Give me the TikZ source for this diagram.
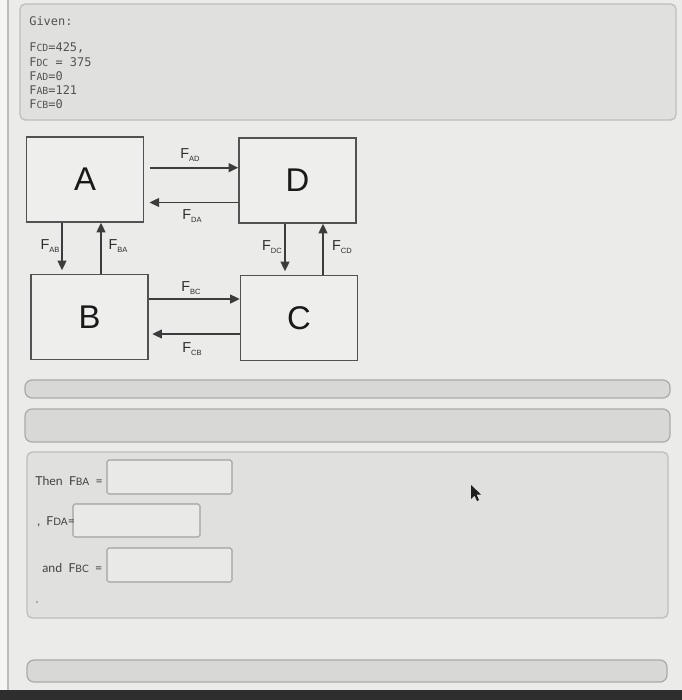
\documentclass[tikz,border=0pt]{standalone}
\usepackage{fontspec}
\setmainfont{Liberation Sans}
\newfontfamily\monofont{DejaVu Sans Mono}
\newfontfamily\formfont{Lato}
\usetikzlibrary{arrows.meta}
\definecolor{pagebg}{HTML}{EBEBE9}
\definecolor{panelfill}{HTML}{E0E0DE}
\definecolor{panelline}{HTML}{BDBDBB}
\definecolor{barfill}{HTML}{D8D8D6}
\definecolor{inputfill}{HTML}{E9E9E7}
\definecolor{inkgrey}{HTML}{3C3C3C}
\newcommand\fsub[1]{F\raisebox{-0.45ex}{\fontsize{4.3}{4.3}\selectfont #1}}
\newcommand\gsub[1]{F{\fontsize{5.6}{5.6}\selectfont #1}}
\tikzset{
	blockbox/.style={draw=black!68, line width=0.85pt, fill=pagebg!85!white,
		minimum width=2.34cm, minimum height=1.7cm, inner sep=0pt,
		font=\fontsize{18.7}{18.7}\selectfont, text=black!90},
	force/.style={draw=inkgrey, line width=1.1pt, -{Triangle[length=5.5pt,width=5pt]}},
	flabel/.style={font=\fontsize{8.2}{8.2}\selectfont, text=black!82, inner sep=0pt},
	giventext/.style={anchor=west, inner sep=0pt, text=black!68, font=\monofont\fontsize{6.8}{6.8}\selectfont},
	formtext/.style={anchor=west, inner sep=0pt, text=black!75, font=\formfont\fontsize{7}{7}\selectfont},
	panelbox/.style={draw=panelline, line width=0.7pt, fill=panelfill, rounded corners=3pt},
	barbox/.style={draw=panelline!90!black, line width=0.7pt, fill=barfill, rounded corners=4pt},
	inputbox/.style={draw=panelline!85!black, line width=0.6pt, fill=inputfill, rounded corners=1pt}
}
\begin{document}
\begin{tikzpicture}[x=0.02cm, y=-0.02cm]
	%%%%% PAGE %%%%%
	\useasboundingbox (0,0) rectangle (682,700);
	\fill[pagebg] (0,0) rectangle (682,700);
	\fill[pagebg!50!white] (0,0) rectangle (8,690);
	\draw[panelline, line width=0.8pt] (8,0) -- (8,690);
	\fill[black!82] (0,690) rectangle (682,700);
	
	%%%%% GIVEN %%%%%
	\draw[panelbox] (20,4) rectangle (676,120);
	\node[giventext] (given) at (29,21) {Given:};
	\node[giventext] (gcd) at (29,48) {\gsub{CD}=425,};
	\node[giventext] (gdc) at (29,62) {\gsub{DC} = 375};
	\node[giventext] (gad) at (29,76) {\gsub{AD}=0};
	\node[giventext] (gab) at (29,90) {\gsub{AB}=121};
	\node[giventext] (gcb) at (29,104) {\gsub{CB}=0};
	
	%%%%% BLOCKS %%%%%
	\node[blockbox] (A) at (85,179.5) {A};
	\node[blockbox] (D) at (297.5,180.5) {D};
	\node[blockbox] (B) at (89.5,317) {B};
	\node[blockbox] (C) at (299,318) {C};
	
	\draw[force, shorten <=3pt] ([yshift=0.236cm]A.east) -- ([yshift=0.236cm]A.east -| D.west);
	\draw[force, shorten >=3pt] ([yshift=-0.44cm]D.west) -- ([yshift=-0.44cm]D.west -| A.east);
	\draw[force, shorten >=2pt] ([xshift=-0.46cm]A.south) -- ([xshift=-0.46cm]A.south |- B.north);
	\draw[force] ([xshift=0.23cm]B.north) -- ([xshift=0.23cm]B.north |- A.south);
	\draw[force, shorten >=2pt] ([xshift=-0.25cm]D.south) -- ([xshift=-0.25cm]D.south |- C.north);
	\draw[force] ([xshift=0.48cm]C.north) -- ([xshift=0.48cm]C.north |- D.south);
	\draw[force] ([yshift=0.36cm]B.east) -- ([yshift=0.36cm]B.east -| C.west);
	\draw[force, shorten >=2pt] ([yshift=-0.32cm]C.west) -- ([yshift=-0.32cm]C.west -| B.east);
	
	\node[flabel] (lad) at (190,155) {\fsub{AD}};
	\node[flabel] (lda) at (192,216) {\fsub{DA}};
	\node[flabel] (lab) at (50,246) {\fsub{AB}};
	\node[flabel] (lba) at (118,246) {\fsub{BA}};
	\node[flabel] (ldc) at (272,247) {\fsub{DC}};
	\node[flabel] (lcd) at (342,247) {\fsub{CD}};
	\node[flabel] (lbc) at (191,288) {\fsub{BC}};
	\node[flabel] (lcb) at (192,349) {\fsub{CB}};
	
	%%%%% FORM %%%%%
	\draw[barbox] (25,380) rectangle (670,398);
	\draw[barbox] (25,409) rectangle (670,442);
	\draw[panelbox] (27,452) rectangle (668,618);
	\draw[barbox] (27,660) rectangle (667,682);
	
	\draw[inputbox] (107,460) rectangle (232,494);
	\draw[inputbox] (73,504) rectangle (200,537);
	\draw[inputbox] (107,548) rectangle (232,582);
	
	\node[formtext] (then) at (35,481) {Then \ F{\fontsize{5.8}{5.8}\selectfont BA} \ =};
	\node[formtext] (fda) at (37,522) {, \ F{\fontsize{5.8}{5.8}\selectfont DA}=};
	\node[formtext] (fbc) at (42,568) {and \ F{\fontsize{5.8}{5.8}\selectfont BC} \ =};
	\fill[black!55] (37,602) circle (0.8);
	
	% pointer
	\fill[black!88] (471,485) -- (471,499) -- (474.5,495.5) -- (477,501) -- (479,500) -- (476.5,494.5) -- (481,494.5) -- cycle;
\end{tikzpicture}
\end{document}
